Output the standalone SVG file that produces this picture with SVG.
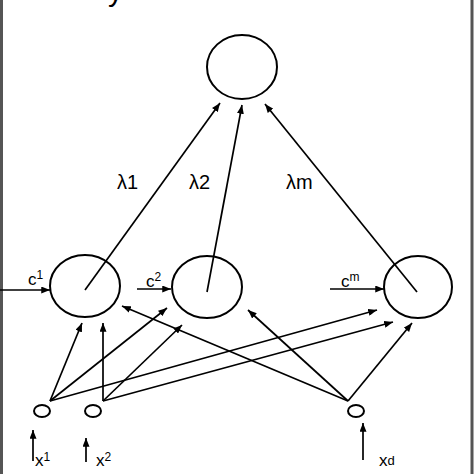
<svg xmlns="http://www.w3.org/2000/svg" width="474" height="474" viewBox="0 0 474 474">
<style>
.n{fill:none;stroke:#000;stroke-width:2}
.c line{stroke:#000;stroke-width:1.7;marker-end:url(#ah)}
.t{font-family:"Liberation Sans",Arial,sans-serif;fill:#000}
</style>
<defs>
<marker id="ah" viewBox="0 0 10 8" refX="10" refY="4" markerWidth="9" markerHeight="7" markerUnits="userSpaceOnUse" orient="auto">
<path d="M0,0 L10,4 L0,8 z" fill="#000"/>
</marker>
</defs>
<rect width="474" height="474" fill="#fff"/>
<line x1="1.5" y1="0" x2="1.5" y2="474" stroke="#555" stroke-width="3"/>
<line x1="472" y1="0" x2="472" y2="474" stroke="#555" stroke-width="3"/>
<text class="t" x="108" y="1" font-size="30">y</text>

<g id="output"><ellipse class="n" cx="242" cy="67" rx="35" ry="32"/></g>
<g id="h1"><ellipse class="n" cx="85" cy="286" rx="35" ry="31"/></g>
<g id="h2"><ellipse class="n" cx="207" cy="287" rx="35" ry="31"/></g>
<g id="hm"><ellipse class="n" cx="418" cy="287" rx="34" ry="31"/></g>
<g id="x1"><ellipse class="n" cx="42" cy="411" rx="8" ry="6" stroke-width="1.6"/></g>
<g id="x2"><ellipse class="n" cx="93" cy="411" rx="8" ry="6" stroke-width="1.6"/></g>
<g id="xd"><ellipse class="n" cx="356" cy="411" rx="8" ry="6" stroke-width="1.6"/></g>

<g id="connectors" class="c">
<line x1="85" y1="290" x2="220" y2="103"/>
<line x1="207" y1="292" x2="242" y2="105"/>
<line x1="417" y1="292" x2="265" y2="104"/>
<line x1="0" y1="290" x2="50" y2="290"/>
<line x1="137" y1="289" x2="171" y2="289"/>
<line x1="330" y1="289" x2="384" y2="289"/>
<line x1="50" y1="401" x2="82" y2="323"/>
<line x1="50" y1="401" x2="167" y2="308"/>
<line x1="50" y1="401" x2="377" y2="310"/>
<line x1="103" y1="401" x2="103" y2="323"/>
<line x1="103" y1="401" x2="182" y2="325"/>
<line x1="103" y1="401" x2="393" y2="322"/>
<line x1="348" y1="401" x2="122" y2="306"/>
<line x1="348" y1="401" x2="248" y2="310"/>
<line x1="348" y1="401" x2="412" y2="323"/>
<line x1="33" y1="461" x2="33" y2="430"/>
<line x1="86" y1="462" x2="86" y2="438"/>
<line x1="363" y1="460" x2="363" y2="423"/>
</g>

<g id="labels">
<text class="t" x="117" y="189" font-size="20">λ1</text>
<text class="t" x="189" y="189" font-size="20">λ2</text>
<text class="t" x="286" y="189" font-size="20">λm</text>
<text class="t" x="28" y="285" font-size="17">c<tspan font-size="12" dy="-6">1</tspan></text>
<text class="t" x="146" y="287" font-size="17">c<tspan font-size="12" dy="-6">2</tspan></text>
<text class="t" x="341" y="287" font-size="17">c<tspan font-size="12" dy="-6">m</tspan></text>
<text class="t" x="35" y="466" font-size="17">x<tspan font-size="12" dy="-5">1</tspan></text>
<text class="t" x="96" y="466" font-size="17">x<tspan font-size="12" dy="-5">2</tspan></text>
<text class="t" x="379" y="466" font-size="17">x<tspan font-size="13" dy="-1">d</tspan></text>
</g>
</svg>
